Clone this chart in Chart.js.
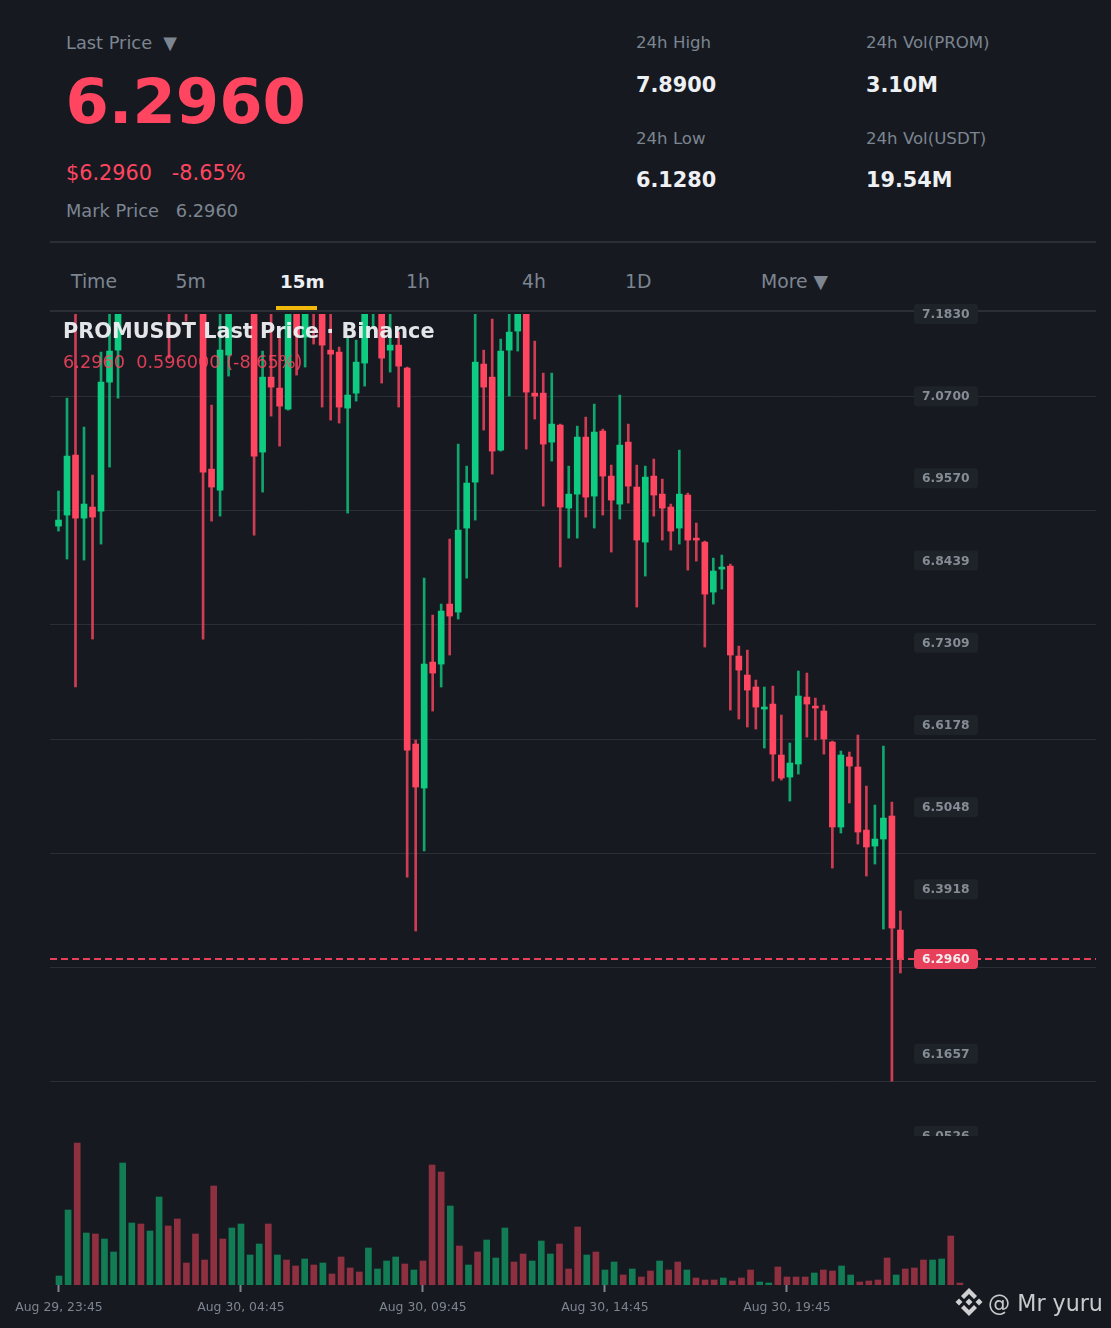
<!DOCTYPE html>
<html>
<head>
<meta charset="utf-8">
<title>PROMUSDT</title>
<script src="https://cdn.jsdelivr.net/npm/chart.js@4/dist/chart.umd.min.js"></script>
<style>
  html, body { margin: 0; padding: 0; background: #161a20; }
  body { position: relative; width: 1111px; height: 1328px; overflow: hidden; font-family: "DejaVu Sans", sans-serif; }
  .t { position: absolute; white-space: pre; line-height: 1; transform: translateY(-50%); z-index: 3; }
  .grey { color: #7d8591; }
  .red { color: #ff4560; }
  .white { color: #eef0f3; font-weight: bold; }
  .rule { position: absolute; left: 50px; width: 1046px; height: 2px; background: #2a2e35; }
  canvas { position: absolute; left: 0; display: block; }
</style>
</head>
<body>
  <div class="t grey" style="left:66px;top:42.5px;font-size:17.8px">Last Price  ▼</div>
  <div class="t red" style="left:65.5px;top:102px;font-size:62.3px;font-weight:bold">6.2960</div>
  <div class="t red" style="left:66px;top:173px;font-size:20.8px">$6.2960   -8.65%</div>
  <div class="t grey" style="left:66px;top:211px;font-size:17.8px">Mark Price   6.2960</div>

  <div class="t grey" style="left:636px;top:43px;font-size:16.6px">24h High</div>
  <div class="t white" style="left:636px;top:85px;font-size:20.8px">7.8900</div>
  <div class="t grey" style="left:636px;top:139px;font-size:16.6px">24h Low</div>
  <div class="t white" style="left:636px;top:180px;font-size:20.8px">6.1280</div>
  <div class="t grey" style="left:866px;top:43px;font-size:16.6px">24h Vol(PROM)</div>
  <div class="t white" style="left:866px;top:85px;font-size:20.8px">3.10M</div>
  <div class="t grey" style="left:866px;top:139px;font-size:16.6px">24h Vol(USDT)</div>
  <div class="t white" style="left:866px;top:180px;font-size:20.8px">19.54M</div>

  <div class="rule" style="top:241px"></div>

  <div class="t grey" style="left:71px;top:282px;font-size:18.8px">Time</div>
  <div class="t grey" style="left:175.5px;top:282px;font-size:18.8px">5m</div>
  <div class="t white" style="left:280px;top:282px;font-size:18.3px">15m</div>
  <div class="t grey" style="left:406px;top:282px;font-size:18.8px">1h</div>
  <div class="t grey" style="left:522px;top:282px;font-size:18.8px">4h</div>
  <div class="t grey" style="left:625px;top:282px;font-size:18.8px">1D</div>
  <div class="t grey" style="left:761px;top:282px;font-size:18.8px">More ▼</div>
  <div style="position:absolute;left:276px;top:306px;width:41px;height:4px;background:#f0b90b"></div>

  <div class="rule" style="top:310px"></div>

  <canvas id="candles" width="1111" height="836" style="top:300px"></canvas>
  <canvas id="volume" width="1111" height="192" style="top:1136px"></canvas>

  <div class="t" style="left:63px;top:331px;font-size:20.8px;font-weight:bold;color:rgba(238,240,243,.95)">PROMUSDT Last Price · Binance</div>
  <div class="t" style="left:63px;top:362.5px;font-size:17.7px;color:rgba(255,69,96,.85)">6.2960  0.596000 (-8.65%)</div>

  <svg style="position:absolute;left:954px;top:1287px;z-index:3" width="30" height="30" viewBox="0 0 30 30" fill="#cfd0d2">
    <path d="M15 1 L23 9 L20 12 L15 7 L10 12 L7 9 Z"/>
    <path d="M15 29 L23 21 L20 18 L15 23 L10 18 L7 21 Z"/>
    <path d="M5 11.5 L8.5 15 L5 18.5 L1.5 15 Z"/>
    <path d="M25 11.5 L28.5 15 L25 18.5 L21.5 15 Z"/>
    <path d="M15 11.5 L18.5 15 L15 18.5 L11.5 15 Z"/>
  </svg>
  <div class="t" style="left:988px;top:1303px;font-size:22.2px;color:#c8cacc">@ Mr yuru</div>

<script>
// 15m candles (the ones above the top edge are guesses)
const opens = [
  6.8913, 6.9065, 6.9890, 6.9023, 6.9175, 6.9120, 7.0893, 7.1333, 7.2227, 7.3000,
  7.2600, 7.3300, 7.4100, 7.3700, 7.3200, 7.2900, 7.2500, 7.2200, 6.9697, 6.9408,
  7.1265, 7.2158, 7.2600, 7.3000, 6.9931, 7.0962, 7.0811, 7.0522, 7.2300, 7.1512,
  7.2400, 7.2100, 7.1333, 7.1306, 7.0536, 7.0742, 7.1155, 7.2000, 7.2400, 7.1333,
  7.1402, 7.1086, 6.5916, 6.5311, 6.7043, 6.7016, 6.7841, 6.7731, 6.8886, 6.9518,
  7.1141, 7.0962, 6.9958, 7.1333, 7.1595, 7.2100, 7.0742, 7.0742, 7.0068, 7.0302,
  6.9161, 6.9353, 7.0137, 6.9326, 7.0220, 6.9601, 6.9216, 7.0068, 6.9450, 6.8693,
  6.9601, 6.9353, 6.9175, 6.8886, 6.9340, 6.8748, 6.8693, 6.8006, 6.8322, 6.8363,
  6.7126, 6.6865, 6.6700, 6.6397, 6.6466, 6.5765, 6.5462, 6.5641, 6.6562, 6.6438,
  6.6370, 6.5943, 6.4775, 6.5737, 6.5600, 6.4733, 6.4513, 6.4610, 6.4926, 6.3358
];
const highs = [
  6.9395, 7.0673, 7.2296, 7.0275, 6.9615, 7.1306, 7.2158, 7.2433, 7.3300, 7.3200,
  7.3600, 7.4500, 7.4300, 7.3900, 7.3400, 7.3000, 7.2600, 7.2400, 7.0577, 7.1952,
  7.2500, 7.2800, 7.3200, 7.3200, 7.1320, 7.2021, 7.1512, 7.2400, 7.2600, 7.2500,
  7.2700, 7.2500, 7.2000, 7.1375, 7.1498, 7.1471, 7.2400, 7.2800, 7.2700, 7.2000,
  7.1581, 7.1100, 6.5971, 6.8198, 6.7690, 6.7841, 6.8735, 7.0041, 6.9738, 7.2000,
  7.1333, 7.1760, 7.1485, 7.2100, 7.2300, 7.2400, 7.1457, 7.1017, 7.1017, 7.0316,
  6.9738, 7.0288, 7.0412, 7.0591, 7.0247, 6.9752, 7.0715, 7.0316, 6.9752, 6.9738,
  6.9835, 6.9560, 6.9216, 6.9958, 6.9367, 6.8955, 6.8707, 6.8473, 6.8515, 6.8391,
  6.7263, 6.7208, 6.6796, 6.6700, 6.6713, 6.6315, 6.5930, 6.6920, 6.6892, 6.6548,
  6.6452, 6.5957, 6.5820, 6.5806, 6.6040, 6.5338, 6.5077, 6.5888, 6.5118, 6.3620
];
const lows = [
  6.8845, 6.8460, 6.6700, 6.8446, 6.7360, 6.8666, 6.9725, 7.0673, 7.2000, 7.2300,
  7.2400, 7.3100, 7.3400, 7.1223, 7.2500, 7.1732, 7.1900, 6.7360, 6.8982, 6.9051,
  7.0976, 7.2000, 7.2300, 6.8790, 6.9381, 7.0426, 7.0013, 7.0508, 7.0990, 7.1100,
  7.1416, 7.0550, 7.0371, 7.0330, 6.9092, 7.0632, 7.0838, 7.1636, 7.0880, 7.1031,
  7.0550, 6.4087, 6.3345, 6.4445, 6.6370, 6.6700, 6.7140, 6.7635, 6.8198, 6.8996,
  7.0233, 6.9628, 6.9945, 7.0701, 7.1320, 6.9972, 7.0385, 6.9188, 6.9807, 6.8350,
  6.8748, 6.8748, 6.9037, 6.8886, 6.9065, 6.8556, 6.9010, 6.9230, 6.7800, 6.8226,
  6.9051, 6.8721, 6.8583, 6.8666, 6.8308, 6.8432, 6.7250, 6.7841, 6.8047, 6.6383,
  6.6260, 6.6150, 6.6122, 6.5861, 6.5407, 6.5421, 6.5132, 6.5503, 6.6012, 6.5971,
  6.5778, 6.4211, 6.4692, 6.5105, 6.4541, 6.4101, 6.4266, 6.3372, 6.1280, 6.2767
];
const closes = [
  6.8996, 6.9876, 6.9023, 6.9216, 6.9037, 7.0893, 7.1320, 7.2227, 7.3000, 7.2600,
  7.3300, 7.4100, 7.3700, 7.3200, 7.2900, 7.2500, 7.2200, 6.9656, 6.9450, 7.1333,
  7.2158, 7.2600, 7.3000, 6.9876, 7.0962, 7.0825, 7.0563, 7.2100, 7.1540, 7.2200,
  7.2000, 7.1402, 7.1278, 7.0550, 7.0715, 7.1168, 7.2100, 7.2500, 7.1223, 7.1402,
  7.1113, 6.5833, 6.5325, 6.7016, 6.6892, 6.7745, 6.7676, 6.8858, 6.9505, 7.1168,
  7.0825, 6.9945, 7.1320, 7.1581, 7.2000, 7.0756, 7.0701, 7.0041, 7.0316, 6.9175,
  6.9353, 7.0137, 6.9312, 7.0206, 6.9601, 6.9271, 7.0027, 6.9463, 6.8721, 6.9587,
  6.9340, 6.9161, 6.8845, 6.9353, 6.8721, 6.8721, 6.7978, 6.8295, 6.8350, 6.7140,
  6.6933, 6.6658, 6.6425, 6.6425, 6.5778, 6.5448, 6.5655, 6.6576, 6.6466, 6.6411,
  6.5985, 6.4775, 6.5765, 6.5613, 6.4706, 6.4500, 6.4610, 6.4898, 6.3386, 6.2960
];
// volume, thousands of PROM
const volumes = [
  9, 75, 142, 52, 51, 46, 33, 122, 62, 61,
  54, 88, 59, 66, 22, 51, 25, 99, 46, 57,
  61, 30, 41, 61, 30, 25, 19, 26, 20, 22,
  11, 28, 17, 13, 37, 16, 24, 28, 21, 15,
  24, 120, 113, 79, 39, 20, 33, 45, 27, 57,
  23, 31, 24, 44, 31, 41, 16, 58, 30, 33,
  15, 23, 10, 16, 8, 14, 24, 15, 23, 15,
  7, 5, 5, 7, 4, 7, 15, 3, 2, 18,
  8, 8, 8, 12, 15, 14, 19, 10, 3, 4,
  5, 27, 10, 16, 17, 25, 25, 26, 49, 2
];
const priceTicks = [7.1830, 7.0700, 6.9570, 6.8439, 6.7309, 6.6178, 6.5048, 6.3918, 6.1657, 6.0526];
const gridPrices = [7.0701, 6.9134, 6.7566, 6.5985, 6.4417, 6.2850, 6.1282];
const lastPrice = 6.2960;
const xTickIndex = [0, 20, 40, 60, 80];
const xTickLabels = ["Aug 29, 23:45", "Aug 30, 04:45", "Aug 30, 09:45", "Aug 30, 14:45", "Aug 30, 19:45"];

const GREEN = "#0ecb81", RED = "#ff4560";
const WICK_GREEN = "rgba(14,203,129,0.8)", WICK_RED = "rgba(255,69,96,0.8)";
const VOL_GREEN = "#127d55", VOL_RED = "#8f3040";
const isUp = opens.map((o, i) => closes[i] >= o);

function roundRect(ctx, x, y, w, h, r, fill) {
  ctx.beginPath();
  ctx.roundRect(x, y, w, h, r);
  ctx.fillStyle = fill;
  ctx.fill();
}

// boxes behind the price labels, then the last price line with its tag
const priceTags = {
  id: "priceTags",
  afterDatasetsDraw(chart) {
    const ctx = chart.ctx, s = chart.scales.y;
    ctx.save();
    s.ticks.forEach(t => {
      roundRect(ctx, 914, s.getPixelForValue(t.value) - 10, 64, 20, 3, "#1e2329");
    });
    ctx.restore();
  },
  afterDraw(chart) {
    const ctx = chart.ctx, s = chart.scales.y, a = chart.chartArea;
    const y = s.getPixelForValue(lastPrice);
    ctx.save();
    ctx.strokeStyle = "#e8405a";
    ctx.lineWidth = 2;
    ctx.setLineDash([7, 4]);
    ctx.beginPath();
    ctx.moveTo(a.left, y);
    ctx.lineTo(a.right, y);
    ctx.stroke();
    ctx.setLineDash([]);
    roundRect(ctx, 914, y - 10, 64, 20, 4, "#e8405a");
    ctx.fillStyle = "#f5eef0";
    ctx.font = "bold 12.3px 'DejaVu Sans'";
    ctx.textAlign = "right";
    ctx.textBaseline = "middle";
    ctx.fillText(lastPrice.toFixed(4), 969.5, y + 0.5);
    ctx.restore();
  }
};

new Chart(document.getElementById("candles"), {
  type: "bar",
  data: {
    datasets: [
      {
        label: "body",
        order: 1,
        barThickness: 6,
        data: opens.map((o, i) => ({ x: i, y: [o, closes[i]] })),
        backgroundColor: isUp.map(u => u ? GREEN : RED)
      },
      {
        label: "wick",
        order: 2,
        barThickness: 2,
        data: lows.map((l, i) => ({ x: i, y: [l, highs[i]] })),
        backgroundColor: isUp.map(u => u ? WICK_GREEN : WICK_RED)
      }
    ]
  },
  options: {
    responsive: false,
    animation: false,
    events: [],
    layout: { padding: { left: 50, right: 15, top: 14, bottom: 0 }, autoPadding: false },
    datasets: { bar: { grouped: false } },
    plugins: { legend: { display: false }, tooltip: { enabled: false } },
    scales: {
      x: { type: "linear", offset: false, display: false, min: -1, max: 122 },
      y: {
        position: "right",
        min: 6.0526,
        max: 7.1830,
        afterBuildTicks: s => { s.ticks = priceTicks.map(v => ({ value: v })); },
        afterFit: s => { s.width = 0; s.paddingTop = 0; s.paddingBottom = 0; },
        grid: { display: false },
        border: { display: false },
        ticks: {
          mirror: true,
          padding: -126.5,
          labelOffset: 0.8,
          autoSkip: false,
          z: 1,
          color: "#868c96",
          font: { family: "'DejaVu Sans'", size: 12.3, weight: "bold" },
          callback: v => v.toFixed(4)
        }
      },
      // the drawn lines do not sit on the labelled prices in the original
      grid: {
        position: "right",
        min: 6.0526,
        max: 7.1830,
        afterBuildTicks: s => { s.ticks = gridPrices.map(v => ({ value: v })); },
        afterFit: s => { s.width = 0; },
        border: { display: false },
        grid: { color: "#2a2e35", lineWidth: 1, drawTicks: false },
        ticks: { display: false }
      }
    }
  },
  plugins: [priceTags]
});

new Chart(document.getElementById("volume"), {
  type: "bar",
  data: {
    datasets: [{
      label: "volume",
      barThickness: 6,
      data: volumes.map((v, i) => ({ x: i, y: v })),
      backgroundColor: isUp.map(u => u ? VOL_GREEN : VOL_RED)
    }]
  },
  options: {
    responsive: false,
    animation: false,
    events: [],
    layout: { padding: { left: 50, right: 15, top: 0, bottom: 0 }, autoPadding: false },
    plugins: { legend: { display: false }, tooltip: { enabled: false } },
    scales: {
      x: {
        type: "linear",
        offset: false,
        min: -0.989,
        max: 113.96,
        afterBuildTicks: s => { s.ticks = xTickIndex.map(v => ({ value: v })); },
        afterFit: s => { s.height = 43; },
        border: { display: false },
        grid: { offset: false, drawOnChartArea: false, drawTicks: true, tickLength: 7, color: "#7d8591", tickWidth: 2 },
        ticks: {
          autoSkip: false,
          maxRotation: 0,
          padding: 8,
          color: "#7d8591",
          font: { family: "'DejaVu Sans'", size: 12.4 },
          callback: (v, i) => xTickLabels[i]
        }
      },
      y: { display: false, min: 0, max: 149 }
    }
  }
});
</script>
</body>
</html>
